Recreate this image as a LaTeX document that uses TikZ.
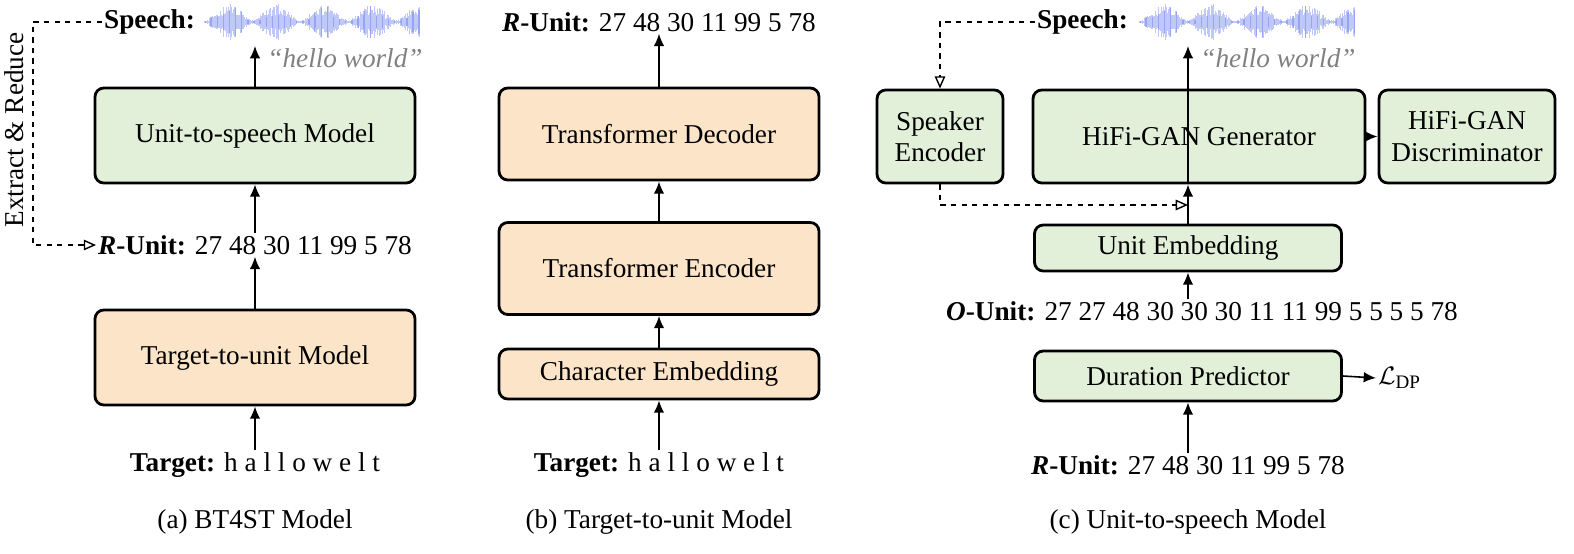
\documentclass[tikz,border=0pt]{standalone}
\usepackage{fontspec}
\setmainfont{Liberation Serif}
\usetikzlibrary{arrows.meta}

\definecolor{unitgreen}{HTML}{E2F0D9}
\definecolor{unitorange}{HTML}{FCE4C8}
\definecolor{wavblue}{HTML}{4A62E8}

\def\px{0.02}
\def\boxfont{\fontsize{15.5}{18}\selectfont}

\tikzset{
  block/.style={draw, line width=1.6pt, rounded corners=5pt, inner sep=0pt, font=\boxfont},
  gblock/.style={block, fill=unitgreen},
  oblock/.style={block, fill=unitorange},
  lbl/.style={font=\boxfont, inner sep=1pt},
  arr/.style={-{Latex[length=7pt,width=6pt]}, line width=0.9pt},
  darr/.style={-{Triangle[open,length=7pt,width=6pt]}, dashed, line width=0.8pt},
}

% waveform: #1 = left x, #2 = mid y (pixels)
\newcommand\speechwave[2]{%
  \pgfmathsetseed{7}
  \foreach \t in {0,0.004,...,1} {
    \pgfmathsetmacro\hh{0.36*(0.08+0.92*abs(sin(\t*810))^1.5)*(0.35+0.65*rnd)}
    \draw [wavblue, opacity=0.35, line width=0.6pt]
      ({(#1+215*\t)*\px}, {-#2*\px+\hh}) -- ++(0, {-2*\hh});
  }
}

\begin{document}
\begin{tikzpicture}[x=1cm, y=1cm]
  \useasboundingbox (0,0) rectangle (1574*\px, -553*\px);

  % (a) BT4ST
  \def\cx{255}
  \node [gblock, minimum width=320*\px cm, minimum height=95*\px cm] (usm) at (\cx*\px, -135.5*\px) {Unit-to-speech Model};
  \node [oblock, minimum width=320*\px cm, minimum height=95*\px cm] (ttu) at (\cx*\px, -357.5*\px) {Target-to-unit Model};
  \node [lbl] (runita) at (\cx*\px, -245*\px) {\textbf{\textit{R}-Unit:} 27 48 30 11 99 5 78};
  \node [lbl] (tgta) at (\cx*\px, -465*\px) {\textbf{Target:} h a l l o w e l t};
  \node [lbl, anchor=east] (speecha) at (197*\px, -22*\px) {\textbf{Speech:}};
  \speechwave{205}{22}
  \node [lbl, gray, font=\boxfont\itshape] (helloa) at (345*\px, -58*\px) {``hello world''};
  \node [lbl] (capa) at (\cx*\px, -522*\px) {(a) BT4ST Model};
  \draw [arr] (usm.north) -- (\cx*\px, -46*\px);
  \draw [arr] (runita.north -| usm.south) -- (usm.south);
  \draw [arr] (ttu.north) -- (runita.south -| ttu.north);
  \draw [arr] (tgta.north -| ttu.south) -- (ttu.south);
  \coordinate (bend1) at (33*\px, -22*\px);
  \coordinate (bend2) at (33*\px, -245*\px);
  \draw [darr] (speecha.west) -- (bend1) -- (bend2) -- (runita.west);
  \node [lbl, rotate=90] (extract) at (14*\px, -130*\px) {Extract \& Reduce};

  % (b) Target-to-unit
  \def\cx{659}
  \node [oblock, minimum width=320*\px cm, minimum height=92*\px cm] (dec) at (\cx*\px, -134*\px) {Transformer Decoder};
  \node [oblock, minimum width=320*\px cm, minimum height=92*\px cm] (enc) at (\cx*\px, -268.5*\px) {Transformer Encoder};
  \node [oblock, minimum width=320*\px cm, minimum height=50*\px cm] (chemb) at (\cx*\px, -374*\px) {Character Embedding};
  \node [lbl] (runitb) at (\cx*\px, -22*\px) {\textbf{\textit{R}-Unit:} 27 48 30 11 99 5 78};
  \node [lbl] (tgtb) at (\cx*\px, -465*\px) {\textbf{Target:} h a l l o w e l t};
  \node [lbl] (capb) at (\cx*\px, -522*\px) {(b) Target-to-unit Model};
  \draw [arr] (dec.north) -- (runitb.south -| dec.north);
  \draw [arr] (enc.north) -- (dec.south);
  \draw [arr] (chemb.north) -- (enc.south);
  \draw [arr] (tgtb.north -| chemb.south) -- (chemb.south);

  % (c) Unit-to-speech
  \def\cx{1188}
  \node [gblock, minimum width=332*\px cm, minimum height=93*\px cm] (gen) at (1199*\px, -136.5*\px) {HiFi-GAN Generator};
  \node [gblock, minimum width=126*\px cm, minimum height=93*\px cm, align=center] (spk) at (940*\px, -136.5*\px) {Speaker\\Encoder};
  \node [gblock, minimum width=176*\px cm, minimum height=93*\px cm, align=center] (disc) at (1467*\px, -136.5*\px) {HiFi-GAN\\Discriminator};
  \node [gblock, minimum width=307*\px cm, minimum height=46*\px cm] (uemb) at (\cx*\px, -248*\px) {Unit Embedding};
  \node [gblock, minimum width=307*\px cm, minimum height=50*\px cm] (dur) at (\cx*\px, -376*\px) {Duration Predictor};
  \node [lbl] (ounit) at (1202*\px, -311*\px) {\textbf{\textit{O}-Unit:} 27 27 48 30 30 30 11 11 99 5 5 5 5 78};
  \node [lbl] (runitc) at (\cx*\px, -465*\px) {\textbf{\textit{R}-Unit:} 27 48 30 11 99 5 78};
  \node [lbl, anchor=east] (speechc) at (1130*\px, -22*\px) {\textbf{Speech:}};
  \speechwave{1140}{22}
  \node [lbl, gray, font=\boxfont\itshape] (helloc) at (1278*\px, -58*\px) {``hello world''};
  \node [lbl, anchor=west] (ldp) at (1376*\px, -378*\px) {$\mathcal{L}_{\mathrm{DP}}$};
  \node [lbl] (capc) at (\cx*\px, -522*\px) {(c) Unit-to-speech Model};
  \draw [arr] (\cx*\px, -183*\px) -- (\cx*\px, -46*\px);
  \draw [arr] (gen.east) -- (disc.west);
  \draw [arr] (uemb.north) -- (uemb.north |- gen.south);
  \draw [arr] (ounit.north -| uemb.south) -- (uemb.south);
  \draw [arr] (runitc.north -| dur.south) -- (dur.south);
  \draw [arr] (dur.east) -- (ldp.west);
  \coordinate (bend3) at (940*\px, -22*\px);
  \coordinate (bend4) at (940*\px, -205*\px);
  \draw [darr] (speechc.west) -- (bend3) -- (spk.north);
  \draw [darr] (spk.south) -- (bend4) -- (\cx*\px, -205*\px);
\end{tikzpicture}
\end{document}
